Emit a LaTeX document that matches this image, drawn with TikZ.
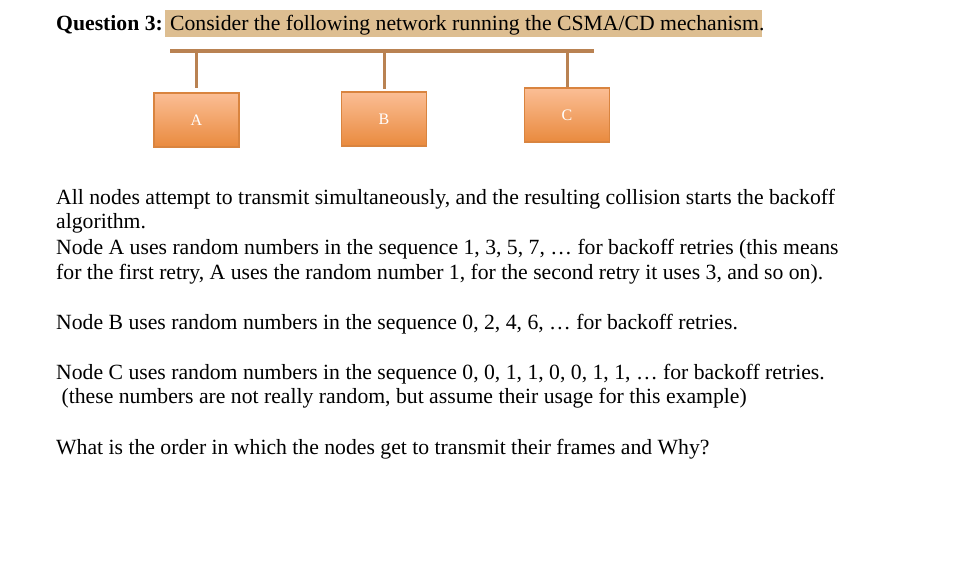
\documentclass[tikz,border=0pt]{standalone}
\usepackage{fontspec}
\setmainfont{Liberation Serif}
\definecolor{hl}{HTML}{DDBE91}
\definecolor{bus}{HTML}{B98252}
\definecolor{boxtop}{HTML}{FBBE95}
\definecolor{boxbot}{HTML}{E98A3E}
\definecolor{boxline}{HTML}{D9843F}
\begin{document}
\begin{tikzpicture}[x=1pt,y=-1pt,
  txt/.style={anchor=base west,inner sep=0pt,font=\fontsize{21.7}{26}\selectfont},
  stn/.style={draw=boxline,line width=1.2pt,top color=boxtop,bottom color=boxbot,minimum width=85pt,minimum height=54pt,inner sep=0pt,text=white,font=\fontsize{16}{19}\selectfont},
  wire/.style={draw=bus,line width=3.5pt}]
\useasboundingbox (0,0) rectangle (977,570);
\fill[hl] (165,10) rectangle (762,37);
\node[txt] (title) at (56,30) {\textbf{Question 3:} Consider the following network running the CSMA/CD mechanism.};
\coordinate (bl) at (170,51);
\coordinate (br) at (594,51);
\draw[wire] (bl) -- (br);
\node[stn] (A) at (196.5,120) {A};
\node[stn] (B) at (384,119) {B};
\node[stn] (C) at (567,115) {C};
\coordinate (ta) at (A.north|-bl);
\coordinate (tb) at (B.north|-bl);
\coordinate (tc) at (C.north|-bl);
\draw[wire,line width=3pt] (ta) -- ([yshift=4pt]A.north);
\draw[wire,line width=3pt] (tb) -- ([yshift=2pt]B.north);
\draw[wire,line width=3pt] (tc) -- (C.north);
\node[txt] (l1) at (56,204) {All nodes attempt to transmit simultaneously, and the resulting collision starts the backoff};
\node[txt] (l2) at (56,228) {algorithm.};
\node[txt] (l3) at (56,254) {Node A uses random numbers in the sequence 1, 3, 5, 7, … for backoff retries (this means};
\node[txt] (l4) at (56,279) {for the first retry, A uses the random number 1, for the second retry it uses 3, and so on).};
\node[txt] (l5) at (56,329) {Node B uses random numbers in the sequence 0, 2, 4, 6, … for backoff retries.};
\node[txt] (l6) at (56,379) {Node C uses random numbers in the sequence 0, 0, 1, 1, 0, 0, 1, 1, … for backoff retries.};
\node[txt] (l7) at (56,403) {\ (these numbers are not really random, but assume their usage for this example)};
\node[txt] (l8) at (56,454) {What is the order in which the nodes get to transmit their frames and Why?};
\end{tikzpicture}
\end{document}
